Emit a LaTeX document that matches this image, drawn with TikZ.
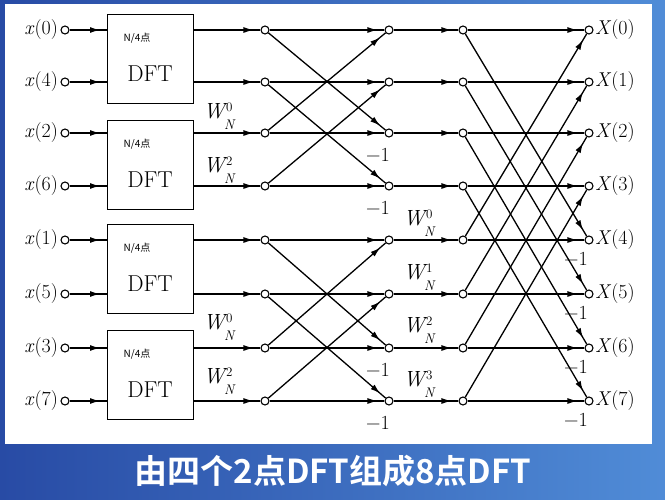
\documentclass[tikz,border=0pt]{standalone}
\usepackage{fontspec}
\newfontfamily\cjk{Noto Sans CJK SC Bold}
\newfontfamily\cjkr{Noto Sans CJK SC}
\usetikzlibrary{decorations.markings,arrows.meta,positioning}
\definecolor{bgA}{RGB}{40,75,165}
\definecolor{bgB}{RGB}{80,140,215}
\begin{document}
\begin{tikzpicture}[x=1pt,y=-1pt,
  nd/.style={circle,draw,line width=1.1pt,fill=white,inner sep=0pt,minimum size=8pt},
  blk/.style={draw,line width=1.2pt,fill=white,minimum width=86pt,minimum height=89pt,anchor=north west},
  wire/.style={line width=1.3pt,postaction={decorate},decoration={markings,mark=at position -7pt with {\arrow{Latex[length=10pt,width=6pt]}}}},
  lbl/.style={font=\fontsize{20}{20}\selectfont},
  w/.style={font=\fontsize{22}{22}\selectfont\itshape,inner sep=0pt},
  ws/.style={font=\fontsize{13}{13}\selectfont,inner sep=0pt},
  wn/.style={font=\fontsize{14}{14}\selectfont\itshape,inner sep=0pt}]
\useasboundingbox (0,0) rectangle (665,499);
\shade[left color=bgA, right color=bgB] (0,0) rectangle (665,499);
\fill[white] (5,4) rectangle (652,444);
\foreach \y [count=\i from 0] in {30,82,133,186,240,294,348,401}{
  \coordinate (b\i) at (193,\y);
  \node[nd] (a\i) at (265,\y) {};
  \node[nd] (c\i) at (389,\y) {};
  \node[nd] (d\i) at (463,\y) {};
  \node[nd] (o\i) at (589,\y) {};
  \node[nd] (in\i) at (65,\y) {};
  \coordinate (e\i) at (107,\y);
}
\foreach \i/\t in {0/0,1/4,2/2,3/6,4/1,5/5,6/3,7/7}{
  \node[lbl,left=-1pt of in\i] (xi\i) {\textit{x}(\t)};
  \node[lbl,right=-2pt of o\i] (xo\i) {\textit{X}(\i)};
  \draw[wire] (in\i) -- (e\i);
  \draw[wire] (b\i) -- (a\i);
  \draw[wire] (c\i) -- (d\i);
  \draw[wire] (d\i) -- (o\i);
}
\foreach \y [count=\k] in {14,120,224,330}{
  \node[blk] (box\k) at (107,\y) {};
  \node[font=\fontsize{10}{10}\selectfont\cjkr] (nt\k) at (137,\y+24) {N/4点};
  \node[font=\fontsize{23}{23}\selectfont] (dft\k) at (150,\y+60) {DFT};
}
\foreach \g in {0,4}{
  \foreach \j in {0,1,2,3}{
    \pgfmathtruncatemacro\s{\g+\j}
    \draw[wire] (a\s) -- (c\s);
  }
  \foreach \p/\q in {0/2,1/3}{
    \pgfmathtruncatemacro\s{\g+\p}\pgfmathtruncatemacro\t{\g+\q}
    \draw[wire] (a\s) -- (c\t);
    \draw[wire] (a\t) -- (c\s);
  }
}
\foreach \j in {0,1,2,3}{
  \pgfmathtruncatemacro\t{\j+4}
  \draw[wire] (d\j) -- (o\t);
  \draw[wire] (d\t) -- (o\j);
}
\foreach \y/\e [count=\k] in {111/0,165/2,322/0,376/2}{
  \node[w] (wa\k) at (214,\y) {W};
  \node[ws,anchor=north west] (wae\k) at ([xshift=1pt]wa\k.north east) {\e};
  \node[wn,anchor=north west] (wan\k) at ([xshift=-1pt,yshift=-1pt]wa\k.south east) {N};
}
\foreach \y [count=\k from 0] in {218,272,325,379}{
  \node[w] (wb\k) at (414,\y) {W};
  \node[ws,anchor=north west] (wbe\k) at ([xshift=1pt]wb\k.north east) {\k};
  \node[wn,anchor=north west] (wbn\k) at ([xshift=-1pt,yshift=-1pt]wb\k.south east) {N};
}
\foreach \i in {2,3,6,7}{ \node[lbl] (m\i) at ([xshift=-11pt,yshift=-22pt]c\i) {−1}; }
\foreach \i in {4,5,6,7}{ \node[lbl] (n\i) at ([xshift=-13pt,yshift=-19pt]o\i) {−1}; }
\node[text=white,font=\fontsize{33}{33}\selectfont\cjk] (cap) at (333,471) {由四个2点DFT组成8点DFT};
\end{tikzpicture}
\end{document}
